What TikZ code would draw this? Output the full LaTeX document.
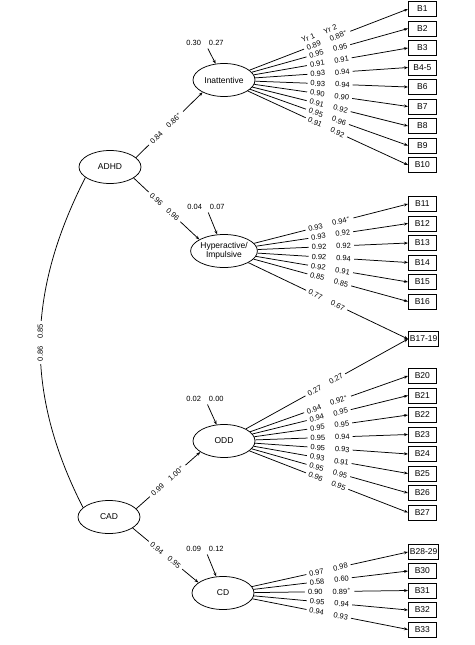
\documentclass[tikz,border=0pt]{standalone}
\usepackage{fontspec}
\setmainfont{Liberation Sans}
\usetikzlibrary{shapes.geometric,arrows.meta}

\begin{document}
\begin{tikzpicture}[x=1pt,y=-1pt,line width=0.75pt,
  >={Stealth[length=4pt,width=3pt]},
  latent/.style={draw,ellipse,minimum width=62pt,minimum height=33pt,inner sep=0pt,font=\fontsize{8.5}{9}\selectfont},
  item/.style={draw,rectangle,anchor=west,minimum width=28pt,minimum height=15pt,inner sep=1.5pt,font=\fontsize{8.5}{9}\selectfont},
  loading/.style={pos=0.49,sloped,fill=white,inner xsep=3pt,inner ysep=0pt,font=\fontsize{7.5}{7.5}\selectfont},
  path/.style={pos=0.45,sloped,fill=white,inner xsep=3pt,inner ysep=0.5pt,font=\fontsize{7.5}{8}\selectfont},
  resid/.style={inner sep=2.5pt,font=\fontsize{7.5}{8}\selectfont}]
\useasboundingbox (0,0) rectangle (474,645);
\node[latent] (ADHD) at (110,167) {ADHD};
\node[latent] (CAD) at (109,517) {CAD};
\node[latent] (Inatt) at (224,80) {Inattentive};
\node[latent,align=center] (Hyper) at (224,251) {Hyperactive/\\Impulsive};
\node[latent] (ODD) at (224,441) {ODD};
\node[latent] (CD) at (223,593) {CD};
\node[item] (B1) at (408,9) {B1};
\node[item] (B2) at (408,28.5) {B2};
\node[item] (B3) at (408,48) {B3};
\node[item] (B4) at (408,67.5) {B4-5};
\node[item] (B6) at (408,87) {B6};
\node[item] (B7) at (408,106.5) {B7};
\node[item] (B8) at (408,126) {B8};
\node[item] (B9) at (408,145.5) {B9};
\node[item] (B10) at (408,165) {B10};
\node[item] (B11) at (408,204) {B11};
\node[item] (B12) at (408,223.5) {B12};
\node[item] (B13) at (408,243) {B13};
\node[item] (B14) at (408,262.5) {B14};
\node[item] (B15) at (408,282) {B15};
\node[item] (B16) at (408,301.5) {B16};
\node[item] (B17) at (408,339) {B17-19};
\node[item] (B20) at (408,376) {B20};
\node[item] (B21) at (408,395.5) {B21};
\node[item] (B22) at (408,415) {B22};
\node[item] (B23) at (408,434.5) {B23};
\node[item] (B24) at (408,454) {B24};
\node[item] (B25) at (408,473.5) {B25};
\node[item] (B26) at (408,493) {B26};
\node[item] (B27) at (408,512.5) {B27};
\node[item] (B28) at (408,552) {B28-29};
\node[item] (B30) at (408,571) {B30};
\node[item] (B31) at (408,590.5) {B31};
\node[item] (B32) at (408,610) {B32};
\node[item] (B33) at (408,629.5) {B33};
\node[resid] (eInatt) at (205,43) {0.30\hspace{8pt}0.27};
\node[resid] (eHyper) at (206,207) {0.04\hspace{8pt}0.07};
\node[resid] (eODD) at (205,399) {0.02\hspace{8pt}0.00};
\node[resid] (eCD) at (205,549) {0.09\hspace{8pt}0.12};
\draw[->] (eInatt) -- (Inatt);
\draw[->] (eHyper) -- (Hyper);
\draw[->] (eODD) -- (ODD);
\draw[->] (eCD) -- (CD);
\draw (ADHD.203) to[out=243,in=117] node[pos=0.5,rotate=90,fill=white,inner xsep=3pt,inner ysep=1pt,font=\fontsize{7.5}{8}\selectfont] (r) {0.86\hspace{8pt}0.85} (CAD.160);
\draw[->] (ADHD.20) -- node[path,pos=0.45] (p1) {0.84\hspace{8pt}0.86$^*$} (Inatt.210);
\draw[->] (ADHD.335) -- node[path,pos=0.47] (p2) {0.96\hspace{8pt}0.96} (Hyper.155);
\draw[->] (CAD.17) -- node[path,pos=0.49] (p3) {0.99\hspace{8pt}1.00$^*$} (ODD.205);
\draw[->] (CAD.335) -- node[path,pos=0.5] (p4) {0.94\hspace{8pt}0.95} (CD.157);
\draw[->] (Inatt) -- node[loading] (l1) {0.89\hspace{10pt}0.88$^*$} node[pos=0.46,sloped,above=5pt,inner sep=1pt,font=\fontsize{7.5}{7.5}\selectfont] (yr) {Yr 1\hspace{10pt}Yr 2} (B1.west);
\draw[->] (Inatt) -- node[loading] (l2) {0.95\hspace{10pt}0.95} (B2.west);
\draw[->] (Inatt) -- node[loading] (l3) {0.91\hspace{10pt}0.91} (B3.west);
\draw[->] (Inatt) -- node[loading] (l4) {0.93\hspace{10pt}0.94} (B4.west);
\draw[->] (Inatt) -- node[loading] (l5) {0.93\hspace{10pt}0.94} (B6.west);
\draw[->] (Inatt) -- node[loading] (l6) {0.90\hspace{10pt}0.90} (B7.west);
\draw[->] (Inatt) -- node[loading] (l7) {0.91\hspace{10pt}0.92} (B8.west);
\draw[->] (Inatt) -- node[loading] (l8) {0.95\hspace{10pt}0.96} (B9.west);
\draw[->] (Inatt) -- node[loading] (l9) {0.91\hspace{10pt}0.92} (B10.west);
\draw[->] (Hyper) -- node[loading] (l10) {0.93\hspace{10pt}0.94$^*$} (B11.west);
\draw[->] (Hyper) -- node[loading] (l11) {0.93\hspace{10pt}0.92} (B12.west);
\draw[->] (Hyper) -- node[loading] (l12) {0.92\hspace{10pt}0.92} (B13.west);
\draw[->] (Hyper) -- node[loading] (l13) {0.92\hspace{10pt}0.94} (B14.west);
\draw[->] (Hyper) -- node[loading] (l14) {0.92\hspace{10pt}0.91} (B15.west);
\draw[->] (Hyper) -- node[loading] (l15) {0.85\hspace{10pt}0.85} (B16.west);
\draw[->] (Hyper) -- node[loading] (l16) {0.77\hspace{10pt}0.67} (B17.west);
\draw[->] (ODD) -- node[loading] (l17) {0.27\hspace{10pt}0.27} (B17.west);
\draw[->] (ODD) -- node[loading] (l18) {0.94\hspace{10pt}0.92$^*$} (B20.west);
\draw[->] (ODD) -- node[loading] (l19) {0.94\hspace{10pt}0.95} (B21.west);
\draw[->] (ODD) -- node[loading] (l20) {0.95\hspace{10pt}0.95} (B22.west);
\draw[->] (ODD) -- node[loading] (l21) {0.95\hspace{10pt}0.94} (B23.west);
\draw[->] (ODD) -- node[loading] (l22) {0.95\hspace{10pt}0.93} (B24.west);
\draw[->] (ODD) -- node[loading] (l23) {0.93\hspace{10pt}0.91} (B25.west);
\draw[->] (ODD) -- node[loading] (l24) {0.95\hspace{10pt}0.95} (B26.west);
\draw[->] (ODD) -- node[loading] (l25) {0.96\hspace{10pt}0.95} (B27.west);
\draw[->] (CD) -- node[loading] (l26) {0.97\hspace{10pt}0.98} (B28.west);
\draw[->] (CD) -- node[loading] (l27) {0.58\hspace{10pt}0.60} (B30.west);
\draw[->] (CD) -- node[loading] (l28) {0.90\hspace{10pt}0.89$^*$} (B31.west);
\draw[->] (CD) -- node[loading] (l29) {0.95\hspace{10pt}0.94} (B32.west);
\draw[->] (CD) -- node[loading] (l30) {0.94\hspace{10pt}0.93} (B33.west);
\end{tikzpicture}
\end{document}
